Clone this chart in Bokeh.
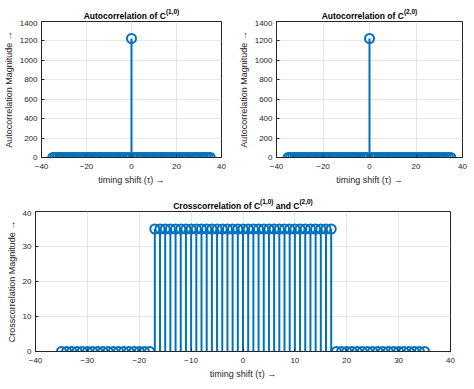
from bokeh.plotting import figure
from bokeh.layouts import column, row
from bokeh.models import Range1d, FixedTicker
from bokeh.core.properties import value
from bokeh.embed import file_html
from bokeh.resources import INLINE

# ---- data ----
lags = list(range(-35, 36))
auto_c10 = [0] * 35 + [1225] + [0] * 35
auto_c20 = [0] * 35 + [1225] + [0] * 35
cross_c10_c20 = [0] * 18 + [35] * 35 + [0] * 18

top_xticks = [-40, -20, 0, 20, 40]
top_yticks = [0, 200, 400, 600, 800, 1000, 1200, 1400]
bot_xticks = [-40, -30, -20, -10, 0, 10, 20, 30, 40]
bot_yticks = [0, 10, 20, 30, 40]

# title pieces: (text, is_superscript)
title1 = [("Autocorrelation of C", False), ("(1,0)", True)]
title2 = [("Autocorrelation of C", False), ("(2,0)", True)]
title3 = [("Crosscorrelation of C", False), ("(1,0)", True),
          ("and C", False), ("(2,0)", True)]

BLUE = "#0072BD"
AX = "#262626"
FONT = "Liberation Sans"
MAIN_PX = 8.5
SUP_PX = 6.5
STRIP_H = 20

# approximate bold Arial/Liberation advance widths (em/1000)
W = {'A': 722, 'u': 611, 't': 333, 'o': 611, 'c': 556, 'r': 389, 'e': 556,
     'l': 278, 'a': 556, 'i': 278, 'n': 611, ' ': 278, 'f': 333, 'C': 722,
     's': 556, 'd': 611, '(': 333, ')': 333, ',': 278, '0': 556, '1': 556,
     '2': 556}


def twidth(s, px):
    return sum(W.get(ch, 556) for ch in s) * px / 1000.0


def make_fig(ylabel, xr, yr, xt, yt, fw, fh, left, right, bottom):
    p = figure(output_backend="svg", toolbar_location=None,
               frame_width=fw, frame_height=fh,
               x_range=Range1d(*xr), y_range=Range1d(*yr),
               min_border_left=left, min_border_right=right,
               min_border_top=1, min_border_bottom=bottom)
    p.background_fill_color = "white"
    p.border_fill_color = "white"
    p.outline_line_color = AX
    p.outline_line_width = 1
    p.outline_line_alpha = 1
    p.xaxis.ticker = FixedTicker(ticks=xt)
    p.yaxis.ticker = FixedTicker(ticks=yt)
    p.xaxis.axis_label = "timing shift (\u03c4) \u2192"
    p.yaxis.axis_label = ylabel
    for ax in (p.xaxis[0], p.yaxis[0]):
        ax.axis_line_color = AX
        ax.major_tick_line_color = AX
        ax.major_tick_in = 3
        ax.major_tick_out = 0
        ax.minor_tick_line_color = None
        ax.major_label_text_font = FONT
        ax.major_label_text_font_size = "8px"
        ax.major_label_text_color = AX
        ax.axis_label_text_font = FONT
        ax.axis_label_text_font_size = "9px"
        ax.axis_label_text_font_style = "normal"
        ax.axis_label_text_color = AX
        ax.axis_label_standoff = 3
    p.xaxis.major_label_standoff = 6
    p.yaxis.major_label_standoff = 4
    p.grid.grid_line_color = "#e6e6e6"
    p.grid.grid_line_width = 1
    return p


def title_strip(p, parts, fw, left, right):
    t = figure(output_backend="svg", toolbar_location=None,
               frame_width=fw, frame_height=STRIP_H,
               x_range=p.x_range, y_range=Range1d(0, STRIP_H),
               min_border_left=left, min_border_right=right,
               min_border_top=0, min_border_bottom=0,
               x_axis_location=None, y_axis_location=None)
    t.grid.grid_line_color = None
    t.outline_line_color = None
    t.background_fill_color = "white"
    t.border_fill_color = "white"
    total = 0.0
    for i, (txt, sup) in enumerate(parts):
        if i > 0 and not sup:
            total += twidth(" ", MAIN_PX)
        total += twidth(txt, SUP_PX if sup else MAIN_PX)
    xs, ys, texts, offs, sizes = [], [], [], [], []
    cur = -total / 2.0
    for i, (txt, sup) in enumerate(parts):
        if i > 0 and not sup:
            cur += twidth(" ", MAIN_PX)
        xs.append(0)
        ys.append(9.0 if sup else 5.0)
        texts.append(txt)
        offs.append(round(cur, 1))
        sizes.append("%spx" % (SUP_PX if sup else MAIN_PX))
        cur += twidth(txt, SUP_PX if sup else MAIN_PX)
    t.text(x=xs, y=ys, text=texts, x_offset=offs, text_font_size=sizes,
           text_font=value(FONT), text_font_style="bold", text_color="#000000",
           text_align="left", text_baseline="alphabetic")
    return t


def stem(p, x, y, size):
    p.segment(x0=x, y0=[0] * len(x), x1=x, y1=y, line_color=BLUE, line_width=2)
    p.scatter(x=x, y=y, marker="circle", size=size, fill_color=None,
              line_color=BLUE, line_width=2)


p1 = make_fig("Autocorrelation Magnitude \u2192",
              (-40, 40), (0, 1400), top_xticks, top_yticks, 180, 136, 35, 14, 33)
stem(p1, lags, auto_c10, 9)
t1 = title_strip(p1, title1, 180, 35, 14)

p2 = make_fig("Autocorrelation Magnitude \u2192",
              (-40, 40), (0, 1400), top_xticks, top_yticks, 186, 136, 35, 8, 33)
stem(p2, lags, auto_c20, 9)
t2 = title_strip(p2, title2, 186, 35, 8)

p3 = make_fig("Crosscorrelation Magnitude \u2192",
              (-40, 40), (0, 40), bot_xticks, bot_yticks, 415, 140, 35, 8, 0)
stem(p3, lags, cross_c10_c20, 9)
t3 = title_strip(p3, title3, 415, 35, 8)

layout = column(row(column(t1, p1), column(t2, p2)), column(t3, p3))
open("out.html", "w").write(file_html(layout, INLINE))
